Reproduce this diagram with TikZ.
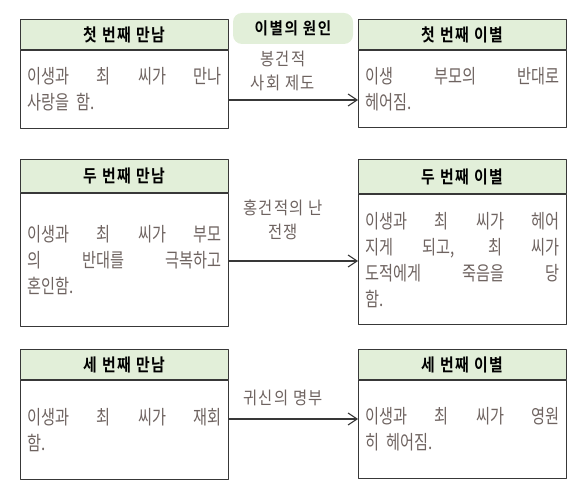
\documentclass[tikz,border=0pt]{standalone}
\usepackage{fontspec}
\setmainfont{Noto Sans CJK KR}[BoldFont={Noto Sans CJK KR Bold}]
\newfontfamily\bodyfont{Noto Sans CJK KR}[FakeStretch=0.78]
\newfontfamily\causefont{Noto Sans CJK KR}[FakeStretch=0.88,LetterSpace=8]
\newfontfamily\headfont{Noto Sans CJK KR Bold}[FakeStretch=0.85,LetterSpace=10]
\newfontfamily\pillfont{Noto Sans CJK KR Bold}[FakeStretch=0.88,LetterSpace=10]
\usetikzlibrary{arrows.meta}
\definecolor{headgreen}{HTML}{E2EFD9}
\definecolor{txtgray}{HTML}{6E6360}
\definecolor{linegray}{HTML}{383838}
\newcommand\fl[1]{\makebox[194pt][s]{\spaceskip=.3em plus 1fil\relax #1}}
\begin{document}
\begin{tikzpicture}[x=1pt, y=-1pt, line join=round, line cap=round, >={Straight Barb[length=9pt,width=12pt]},
head/.style={draw=linegray, line width=1.1pt, fill=headgreen, minimum width=208pt, inner sep=0pt, anchor=north west, font=\headfont\fontsize{17.5}{20}\selectfont},
body/.style={draw=linegray, line width=1.1pt, minimum width=208pt, text width=194pt, inner xsep=7pt, inner ysep=0pt, align=left, anchor=north west, text=txtgray, font=\bodyfont\fontsize{19.5}{26}\selectfont},
pill/.style={fill=headgreen, rounded corners=9pt, minimum width=120pt, minimum height=31pt, inner sep=0pt, font=\pillfont\fontsize{16.5}{18}\selectfont},
cause/.style={text=txtgray, align=center, font=\causefont\fontsize{17.5}{24}\selectfont},
conn/.style={->, draw=linegray, line width=1.1pt}]
\useasboundingbox (0,0) rectangle (588,486);
% first
\node[head, minimum height=30pt] (m1h) at (20,19) {첫 번째 만남};
\node[body, minimum height=78pt] (m1) at (m1h.south west) {\fl{이생과 최 씨가 만나}\\사랑을 함.};
\node[head, minimum height=30pt] (e1h) at (358,19) {첫 번째 이별};
\node[body, minimum height=77pt] (e1) at (e1h.south west) {\fl{이생 부모의 반대로}\\헤어짐.};
\node[pill] (why) at (293,28.5) {이별의 원인};
\node[cause] (c1) at (283,71) {봉건적\\사회 제도};
\draw[conn] (m1.east |- 0,100) -- (e1.west |- 0,100);
% second
\node[head, minimum height=33pt] (m2h) at (20,159) {두 번째 만남};
\node[body, minimum height=133pt] (m2) at (m2h.south west) {\fl{이생과 최 씨가 부모}\\\fl{의 반대를 극복하고}\\혼인함.};
\node[head, minimum height=34pt] (e2h) at (358,159) {두 번째 이별};
\node[body, minimum height=130pt] (e2) at (e2h.south west) {\fl{이생과 최 씨가 헤어}\\\fl{지게 되고, 최 씨가}\\\fl{도적에게 죽음을 당}\\함.};
\node[cause] (c2) at (283,219.5) {홍건적의 난\\전쟁};
\draw[conn] (m2.east |- 0,261) -- (e2.west |- 0,261);
% third
\node[head, minimum height=30pt] (m3h) at (20,349) {세 번째 만남};
\node[body, minimum height=99pt] (m3) at (m3h.south west) {\fl{이생과 최 씨가 재회}\\함.};
\node[head, minimum height=30pt] (e3h) at (358,349) {세 번째 이별};
\node[body, minimum height=98pt] (e3) at (e3h.south west) {\fl{이생과 최 씨가 영원}\\히 헤어짐.};
\node[cause] (c3) at (283,398) {귀신의 명부};
\draw[conn] (m3.east |- 0,419) -- (e3.west |- 0,419);
\end{tikzpicture}
\end{document}
